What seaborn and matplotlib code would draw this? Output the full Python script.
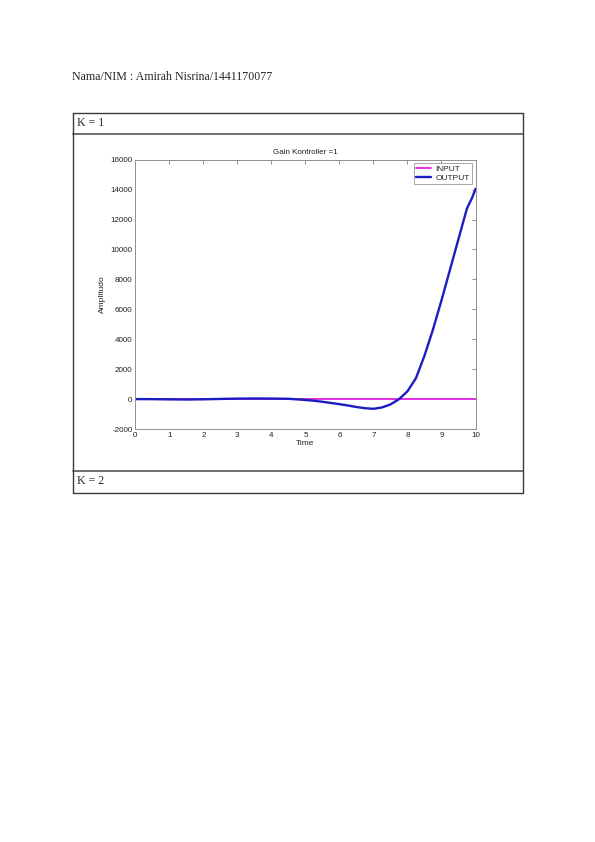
import matplotlib
matplotlib.use("Agg")
import matplotlib.pyplot as plt
import seaborn as sns
import pandas as pd
from matplotlib.lines import Line2D

# values
time = [0, 0.5, 1, 1.5, 2, 2.5, 3, 3.5, 4, 4.5, 5, 5.25, 5.5, 5.75, 6, 6.25,
        6.5, 6.75, 7, 7.25, 7.5, 7.75, 8, 8.25, 8.5, 8.75, 9, 9.25, 9.5,
        9.75, 9.9, 10]
output = [0, -5, -20, -30, -15, 10, 30, 40, 35, 20, -60, -110, -180, -260,
          -340, -430, -530, -610, -650, -560, -360, -10, 520, 1400, 2900,
          4650, 6600, 8650, 10700, 12750, 13450, 14050]
input_signal = [1] * len(time)

x_ticks = list(range(0, 11))
y_ticks = list(range(-2000, 16001, 2000))

W, H = 595, 842

sns.set_style("white")
plt.rcParams['font.family'] = ['Liberation Sans', 'DejaVu Sans']
plt.rcParams['axes.unicode_minus'] = False

fig = plt.figure(figsize=(W / 100, H / 100), dpi=100)


def fx(px):
    return px / W


def fy(py):
    return 1 - py / H


# page text
fig.text(fx(72), fy(77), "Nama/NIM : Amirah Nisrina/1441170077",
         family=['Liberation Serif'], fontsize=8.6, va='center', ha='left')
fig.text(fx(77), fy(122.5), "K = 1", family=['Liberation Serif'],
         fontsize=8.6, va='center', ha='left')
fig.text(fx(77), fy(481.5), "K = 2", family=['Liberation Serif'],
         fontsize=8.6, va='center', ha='left')

# table frame
frame = '#3a3a3a'
left, right = fx(72.5), fx(522.7)
for yy, c, lw in [(113.3, frame, 1.0), (133.5, '#707070', 1.4),
                  (471.3, '#555555', 1.2), (493.3, frame, 1.0)]:
    fig.add_artist(Line2D([left, right], [fy(yy), fy(yy)], color=c, lw=lw))
for xx in (72.5, 522.7):
    fig.add_artist(Line2D([fx(xx), fx(xx)], [fy(113.3), fy(493.3)],
                          color=frame, lw=1.0))

# chart
ax = fig.add_axes([fx(135.3), fy(429), fx(475.5) - fx(135.3),
                   fy(159.7) - fy(429)])
df = pd.DataFrame({'Time': time, 'INPUT': input_signal, 'OUTPUT': output})
sns.lineplot(data=df, x='Time', y='INPUT', ax=ax, color='#e020dc', lw=1.3,
             label='INPUT')
sns.lineplot(data=df, x='Time', y='OUTPUT', ax=ax, color='#1c1cc4', lw=1.7,
             label='OUTPUT')

ax.set_xlim(0, 10)
ax.set_ylim(-2000, 16000)
ax.set_xticks(x_ticks)
ax.set_yticks(y_ticks)
ax.tick_params(direction='in', length=3, width=0.6, colors='#808080',
               labelcolor='#222222', labelsize=5.8, top=True, right=True,
               pad=2)
for s in ax.spines.values():
    s.set_color('#909090')
    s.set_linewidth(0.7)
ax.set_title("Gain Kontroller =1", fontsize=5.8, pad=4, color='#222222')
ax.set_xlabel("Time", fontsize=6, labelpad=1, color='#222222')
ax.set_ylabel("Amplitudo", fontsize=6, labelpad=3, color='#222222')

leg = ax.legend(loc='upper right', fontsize=6.0, frameon=True, fancybox=False,
                borderpad=0.25, handlelength=1.8, labelspacing=0.05,
                borderaxespad=0.45, handletextpad=0.5)
leg.get_frame().set_edgecolor('#808080')
leg.get_frame().set_linewidth(0.6)

fig.savefig("out.png", dpi=100)
